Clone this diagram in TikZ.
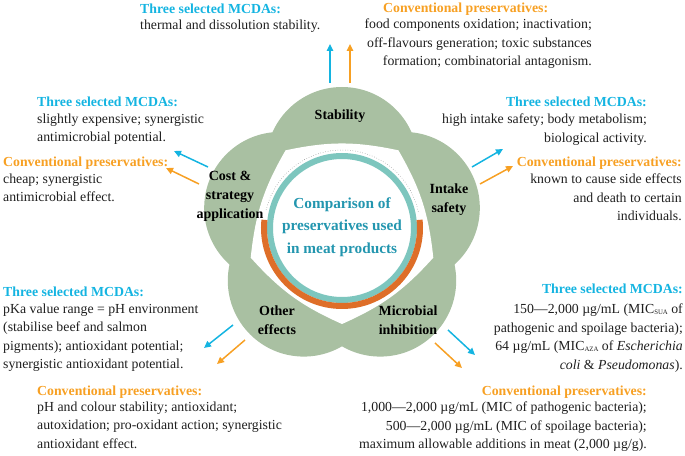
\documentclass[tikz,border=0pt]{standalone}
\usepackage{fontspec}
\setmainfont{Liberation Serif}
\usetikzlibrary{arrows.meta,positioning,calc}

\definecolor{lobegreen}{RGB}{169,192,162}
\definecolor{ringteal}{RGB}{125,198,190}
\definecolor{ringorange}{RGB}{222,110,40}
\definecolor{titleteal}{RGB}{35,150,175}
\definecolor{mcdacyan}{RGB}{20,180,225}
\definecolor{convorange}{RGB}{247,160,35}

\newcommand{\micsub}[1]{\raisebox{-1.2pt}{\fontsize{6.8pt}{7pt}\selectfont #1}}

\begin{document}
\begin{tikzpicture}[
    x=1pt, y=1pt,
    font=\fontsize{13.8pt}{18.5pt}\selectfont,
    lobe/.style={circle, fill=lobegreen, minimum size=152pt, inner sep=0pt},
    lobelabel/.style={font=\fontsize{14pt}{19pt}\selectfont\bfseries, align=center},
    mhead/.style={font=\fontsize{13.8pt}{18.5pt}\selectfont\bfseries, text=mcdacyan, inner sep=0pt},
    chead/.style={font=\fontsize{13.8pt}{18.5pt}\selectfont\bfseries, text=convorange, inner sep=0pt},
    body/.style={inner sep=0pt, text=black!88},
    marr/.style={-{Triangle[length=7pt,width=6.5pt]}, line width=1.5pt, draw=mcdacyan},
    carr/.style={-{Triangle[length=7pt,width=6.5pt]}, line width=1.5pt, draw=convorange},
  ]
    \useasboundingbox (0,0) rectangle (685,455);
    \coordinate (C) at (342,227);

    % ===== Flower: five lobes =====
    \node[lobe] (stab)   at ($(C)+(90:65)$)  {};
    \node[lobe] (intake) at ($(C)+(18:65)$)  {};
    \node[lobe] (microb) at ($(C)+(-54:65)$) {};
    \node[lobe] (other)  at ($(C)+(234:65)$) {};
    \node[lobe] (cost)   at ($(C)+(162:65)$) {};

    % white core
    \fill[white] ($(C)+(126:96)$) to[bend left=12] ($(C)+(54:96)$)
      to[bend left=12] ($(C)+(-18:96)$) to[bend left=12] ($(C)+(-90:96)$)
      to[bend left=12] ($(C)+(-162:96)$) to[bend left=12] ($(C)+(126:96)$) -- cycle;

    % ===== Rings =====
    \draw[ringteal, line width=6pt] (C) circle[radius=72];
    \draw[ringorange, line width=6pt] ($(C)+(174:78)$) arc[start angle=174, end angle=366, radius=78];
    \draw[gray, dotted, line width=0.5pt] ($(C)+(12:78)$) arc[start angle=12, end angle=168, radius=78];

    \node[font=\fontsize{15.3pt}{22.5pt}\selectfont\bfseries, text=titleteal, align=center]
      (title) at ($(C)+(0,1)$) {Comparison of\\ preservatives used\\ in meat products};

    % ===== Lobe labels =====
    \node[lobelabel] (stabL)   at (340,339) {Stability};
    \node[lobelabel] (intakeL) at (449,255) {Intake\\ safety};
    \node[lobelabel] (microbL) at (408,135) {Microbial\\ inhibition};
    \node[lobelabel] (otherL)  at (277,135) {Other\\ effects};
    \node[lobelabel] (costL)   at (230,259) {Cost \&\\ strategy\\ application};

    % ===== Stability =====
    \node[mhead, anchor=north west] (stabMh) at (140,451.5) {Three selected MCDAs:};
    \node[body, anchor=north west, align=left] (stabMb) at (140,435.3) {thermal and dissolution stability.};
    \node[chead, anchor=north west] (stabCh) at (383,452.5) {Conventional preservatives:};
    \node[body, anchor=north east, align=right] (stabCb) at (592,436.3) {%
      food components oxidation; inactivation;\\
      off-flavours generation; toxic substances\\
      formation; combinatorial antagonism.};

    % ===== Intake safety =====
    \node[mhead, anchor=north east] (intakeMh) at (647,358.5) {Three selected MCDAs:};
    \node[body, anchor=north east, align=right] (intakeMb) at (647,341.3) {%
      high intake safety; body metabolism;\\
      biological activity.};
    \node[chead, anchor=north east] (intakeCh) at (682,298.5) {Conventional preservatives:};
    \node[body, anchor=north east, align=right] (intakeCb) at (682,281.3) {%
      known to cause side effects\\
      and death to certain\\
      individuals.};

    % ===== Cost & strategy application =====
    \node[mhead, anchor=north west] (costMh) at (37,358.5) {Three selected MCDAs:};
    \node[body, anchor=north west, align=left] (costMb) at (37,341.3) {%
      slightly expensive; synergistic\\
      antimicrobial potential.};
    \node[chead, anchor=north west] (costCh) at (3,298.5) {Conventional preservatives:};
    \node[body, anchor=north west, align=left] (costCb) at (3,281.3) {%
      cheap; synergistic\\
      antimicrobial effect.};

    % ===== Other effects =====
    \node[mhead, anchor=north west] (otherMh) at (3,168.5) {Three selected MCDAs:};
    \node[body, anchor=north west, align=left] (otherMb) at (3,151.3) {%
      pKa value range = pH environment\\
      (stabilise beef and salmon\\
      pigments); antioxidant potential;\\
      synergistic antioxidant potential.};
    \node[chead, anchor=north west] (otherCh) at (37,69.5) {Conventional preservatives:};
    \node[body, anchor=north west, align=left] (otherCb) at (37,53.3) {%
      pH and colour stability; antioxidant;\\
      autoxidation; pro-oxidant action; synergistic\\
      antioxidant effect.};

    % ===== Microbial inhibition =====
    \node[mhead, anchor=north east] (microbMh) at (683,171.5) {Three selected MCDAs:};
    \node[body, anchor=north east, align=right] (microbMb) at (683,151.3) {%
      150---2,000 µg/mL (MIC\micsub{SUA} of\\
      pathogenic and spoilage bacteria);\\
      64 µg/mL (MIC\micsub{AZA} of \emph{Escherichia}\\
      \emph{coli} \& \emph{Pseudomonas}).};
    \node[chead, anchor=north east] (microbCh) at (647,69.5) {Conventional preservatives:};
    \node[body, anchor=north east, align=right] (microbCb) at (647,53.3) {%
      1,000---2,000 µg/mL (MIC of pathogenic bacteria);\\
      500---2,000 µg/mL (MIC of spoilage bacteria);\\
      maximum allowable additions in meat (2,000 µg/g).};

    % ===== Arrows =====
    \coordinate (stabM0) at (330,372);   \coordinate (stabM1) at (330,411);
    \coordinate (stabC0) at (350,372);   \coordinate (stabC1) at (350,411);
    \coordinate (intakeM0) at (472,288); \coordinate (intakeM1) at (503,306);
    \coordinate (intakeC0) at (480,271); \coordinate (intakeC1) at (513,289);
    \coordinate (costM0) at (208,288);   \coordinate (costM1) at (174,304);
    \coordinate (costC0) at (199,271);   \coordinate (costC1) at (166,287);
    \coordinate (otherM0) at (233,130);  \coordinate (otherM1) at (204,107);
    \coordinate (otherC0) at (245,115);  \coordinate (otherC1) at (217,91);
    \coordinate (microbM0) at (448,125); \coordinate (microbM1) at (475,100);
    \coordinate (microbC0) at (435,112); \coordinate (microbC1) at (462,87);

    \draw[marr] (stabM0) -- (stabM1);
    \draw[carr] (stabC0) -- (stabC1);
    \draw[marr] (intakeM0) -- (intakeM1);
    \draw[carr] (intakeC0) -- (intakeC1);
    \draw[marr] (costM0) -- (costM1);
    \draw[carr] (costC0) -- (costC1);
    \draw[marr] (otherM0) -- (otherM1);
    \draw[carr] (otherC0) -- (otherC1);
    \draw[marr] (microbM0) -- (microbM1);
    \draw[carr] (microbC0) -- (microbC1);

  \end{tikzpicture}
\end{document}
